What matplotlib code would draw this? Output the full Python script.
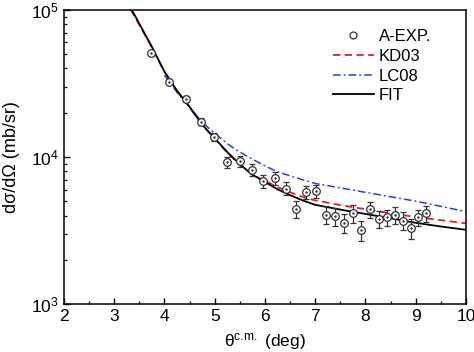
import matplotlib
matplotlib.use('Agg')
import matplotlib.pyplot as plt
from matplotlib.ticker import MultipleLocator, LogLocator, NullFormatter
from matplotlib.lines import Line2D
import numpy as np

plt.rcParams['font.family'] = ['Liberation Sans', 'DejaVu Sans']
plt.rcParams['mathtext.fontset'] = 'custom'
plt.rcParams['mathtext.rm'] = 'Liberation Sans'
plt.rcParams['mathtext.it'] = 'Liberation Sans'

# measured angular distribution
exp_x = [3.73, 4.09, 4.42, 4.72, 4.985, 5.25, 5.50, 5.75, 5.97, 6.20, 6.41, 6.62, 6.82, 7.01,
         7.21, 7.39, 7.58, 7.76, 7.92, 8.10, 8.27, 8.43, 8.59, 8.74, 8.90, 9.04, 9.20]
exp_y = [50900, 32400, 24900, 17400, 13700, 9200, 9350, 8200, 6870, 7200, 6100, 4430, 5750, 5850,
         4050, 3970, 3570, 4140, 3180, 4400, 3800, 3890, 4030, 3690, 3270, 3890, 4140]
exp_rel_err = [0.04, 0.04, 0.05, 0.05, 0.06, 0.09, 0.09, 0.10, 0.10, 0.10, 0.10, 0.13, 0.10, 0.10,
               0.14, 0.14, 0.15, 0.14, 0.16, 0.12, 0.13, 0.13, 0.13, 0.14, 0.15, 0.13, 0.12]

# KD03 calculation
kd_x = [3.33, 3.5, 3.75, 4.0, 4.25, 4.5, 4.75, 5.0, 5.25, 5.5, 5.75, 6.0, 6.25, 6.5, 6.75,
        7.0, 7.5, 8.0, 8.5, 9.0, 9.5, 10.0]
kd_y = [100000, 79000, 55500, 37800, 28000, 21800, 16500, 13300, 10700, 8850, 7560, 6890, 6240,
        5750, 5350, 5070, 4710, 4420, 4140, 3910, 3720, 3540]

# LC08 calculation
lc_x = [4.0, 4.25, 4.5, 4.75, 5.0, 5.25, 5.5, 5.75, 6.0, 6.25, 6.5, 6.75, 7.0, 7.5, 8.0,
        8.5, 9.0, 9.5, 10.0]
lc_y = [35900, 27500, 21900, 17200, 14500, 12300, 10800, 9660, 8710, 7910, 7450, 7000, 6610,
        6170, 5750, 5370, 5010, 4620, 4250]

# fit
fit_x = [3.35, 3.5, 3.75, 4.0, 4.25, 4.5, 4.75, 5.0, 5.25, 5.5, 5.75, 6.0, 6.25, 6.5, 6.75,
         7.0, 7.5, 8.0, 8.5, 9.0, 9.5, 10.0]
fit_y = [100000, 80400, 56000, 38000, 28200, 21900, 16600, 13400, 10800, 8910, 7590, 6760, 6030,
         5500, 5070, 4730, 4390, 4100, 3830, 3570, 3370, 3200]

fig = plt.figure(figsize=(4.74, 3.52), dpi=100)
ax = fig.add_axes([0.135, 0.136, 0.848, 0.836])

exp_err = np.array(exp_y) * np.array(exp_rel_err)
ax.errorbar(exp_x, exp_y, yerr=exp_err, fmt='o', mfc='white', mec='#333333', ms=5.5,
            mew=0.9, ecolor='#333333', elinewidth=0.9, capsize=2.4, capthick=0.9, zorder=3)
ax.plot(exp_x, exp_y, '.', color='#333333', ms=1.5, zorder=4)
kd_line, = ax.plot(kd_x, kd_y, '--', color='#e0202a', lw=1.3, dashes=(4, 2.5), zorder=2)
lc_line, = ax.plot(lc_x, lc_y, '-.', color='#2a40d8', lw=1.1, dashes=(5, 2, 1.2, 2), zorder=2)
fit_line, = ax.plot(fit_x, fit_y, '-', color='black', lw=1.3, zorder=2.5)

ax.set_yscale('log')
ax.set_xlim(2, 10)
ax.set_ylim(1e3, 1e5)
ax.xaxis.set_major_locator(MultipleLocator(1))
ax.xaxis.set_minor_locator(MultipleLocator(0.5))
ax.yaxis.set_minor_locator(LogLocator(base=10, subs=np.arange(2, 10)))
ax.yaxis.set_minor_formatter(NullFormatter())
ax.tick_params(which='both', direction='in', top=False, right=False, labelsize=12.5)
ax.tick_params(which='major', length=4, width=1)
ax.tick_params(which='minor', length=2.5, width=0.9)
for s in ax.spines.values():
    s.set_linewidth(1.1)

ax.set_xlabel(r'θ$^{\mathrm{c.\!m.}}$ (deg)', fontsize=12.5, labelpad=5)
ax.set_ylabel('dσ/dΩ (mb/sr)', fontsize=13, labelpad=8)

exp_handle = Line2D([], [], ls='none', marker='o', mfc='white', mec='#333333', ms=5, mew=0.9)
ax.legend([exp_handle, kd_line, lc_line, fit_line], ['A-EXP.', 'KD03', 'LC08', 'FIT'],
          loc='upper right', frameon=False, fontsize=12, handlelength=2.5,
          handletextpad=0.25, labelspacing=0.28, bbox_to_anchor=(0.95, 0.985))

fig.savefig('out.png', dpi=100)
